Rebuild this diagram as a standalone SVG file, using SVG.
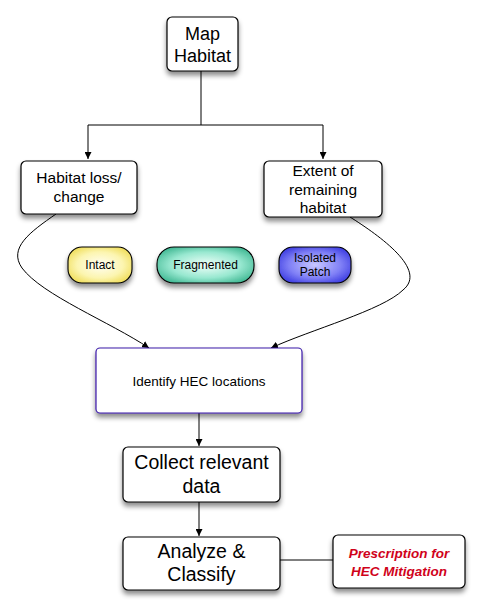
<svg xmlns="http://www.w3.org/2000/svg" width="485" height="614" viewBox="0 0 485 614">
<defs>
<filter id="sh" x="-20%" y="-20%" width="140%" height="160%">
<feDropShadow dx="0" dy="4" stdDeviation="2.5" flood-color="#000" flood-opacity="0.45"/>
</filter>
<marker id="arr" viewBox="0 0 10 10" refX="10" refY="5" markerWidth="7" markerHeight="7" orient="auto" markerUnits="userSpaceOnUse">
<path d="M0,0 L10,5 L0,10 z" fill="#000"/>
</marker>
<radialGradient id="gY" cx="50%" cy="50%" r="60%">
<stop offset="0" stop-color="#fffef5"/>
<stop offset="0.6" stop-color="#fcf5b0"/>
<stop offset="1" stop-color="#efdc55"/>
</radialGradient>
<radialGradient id="gG" cx="50%" cy="50%" r="60%">
<stop offset="0" stop-color="#f2fffa"/>
<stop offset="0.6" stop-color="#98e8d0"/>
<stop offset="1" stop-color="#3fb792"/>
</radialGradient>
<radialGradient id="gB" cx="50%" cy="50%" r="60%">
<stop offset="0" stop-color="#c8c8ff"/>
<stop offset="0.6" stop-color="#8080f6"/>
<stop offset="1" stop-color="#3b3be0"/>
</radialGradient>
<style>
.box{fill:#fff;stroke:#000;stroke-width:1.2}
.pill{stroke:#000;stroke-width:1.1}
.t{font-family:"Liberation Sans",Arial,sans-serif;fill:#000;text-anchor:middle}
.c{fill:none;stroke:#000;stroke-width:1}
</style>
</defs>

<g id="connectors">
<path class="c" d="M201,71 V125"/>
<path class="c" d="M88,125 H323"/>
<path class="c" d="M88,125 V159" marker-end="url(#arr)"/>
<path class="c" d="M323,125 V159" marker-end="url(#arr)"/>
<path class="c" d="M56,214 C30,232 8,248 22,268 C42,295 110,322 149,348" marker-end="url(#arr)"/>
<path class="c" d="M350,217 C380,236 428,270 403,290 C383,310 310,330 271,348" marker-end="url(#arr)"/>
<path class="c" d="M199,413 V446" marker-end="url(#arr)"/>
<path class="c" d="M199,502 V536" marker-end="url(#arr)"/>
<path class="c" d="M280,560 H333"/>
</g>

<g id="map-habitat">
<rect class="box" x="167" y="17" width="71" height="54" rx="5" filter="url(#sh)"/>
<text class="t" x="202.5" y="40" font-size="18">Map</text>
<text class="t" x="202.5" y="62" font-size="18">Habitat</text>
</g>

<g id="habitat-loss">
<rect class="box" x="21" y="161" width="116" height="53" rx="5" filter="url(#sh)"/>
<text class="t" x="79" y="183" font-size="15.5">Habitat loss/</text>
<text class="t" x="79" y="202" font-size="15.5">change</text>
</g>

<g id="extent-remaining">
<rect class="box" x="264" y="161" width="118" height="56" rx="5" filter="url(#sh)"/>
<text class="t" x="323" y="176" font-size="15.5">Extent of</text>
<text class="t" x="323" y="195" font-size="15.5">remaining</text>
<text class="t" x="323" y="213" font-size="15.5">habitat</text>
</g>

<g id="intact">
<rect class="pill" x="68" y="247" width="64" height="36" rx="14" fill="url(#gY)" filter="url(#sh)"/>
<text class="t" x="100" y="269" font-size="12">Intact</text>
</g>

<g id="fragmented">
<rect class="pill" x="157" y="247" width="97" height="36" rx="17" fill="url(#gG)" filter="url(#sh)"/>
<text class="t" x="205.5" y="269" font-size="12">Fragmented</text>
</g>

<g id="isolated-patch">
<rect class="pill" x="279" y="247" width="72" height="36" rx="14" fill="url(#gB)" filter="url(#sh)"/>
<text class="t" x="315" y="262" font-size="12">Isolated</text>
<text class="t" x="315" y="276" font-size="12">Patch</text>
</g>

<g id="identify-hec">
<rect class="box" x="96" y="348" width="206" height="65" rx="4" style="stroke:#3a1aa8" filter="url(#sh)"/>
<text class="t" x="199" y="386" font-size="13.5">Identify HEC locations</text>
</g>

<g id="collect-data">
<rect class="box" x="123" y="447" width="157" height="55" rx="5" filter="url(#sh)"/>
<text class="t" x="201.5" y="469" font-size="19.5">Collect relevant</text>
<text class="t" x="201.5" y="493" font-size="19.5">data</text>
</g>

<g id="analyze-classify">
<rect class="box" x="123" y="537" width="157" height="53" rx="5" filter="url(#sh)"/>
<text class="t" x="201.5" y="558" font-size="19.5">Analyze &amp;</text>
<text class="t" x="201.5" y="581" font-size="19.5">Classify</text>
</g>

<g id="prescription">
<rect class="box" x="333" y="535" width="132" height="53" rx="5" filter="url(#sh)"/>
<text class="t" x="399" y="558" font-size="13.5" font-weight="bold" font-style="italic" style="fill:#d0021b">Prescription for</text>
<text class="t" x="399" y="576" font-size="13.5" font-weight="bold" font-style="italic" style="fill:#d0021b">HEC Mitigation</text>
</g>
</svg>
